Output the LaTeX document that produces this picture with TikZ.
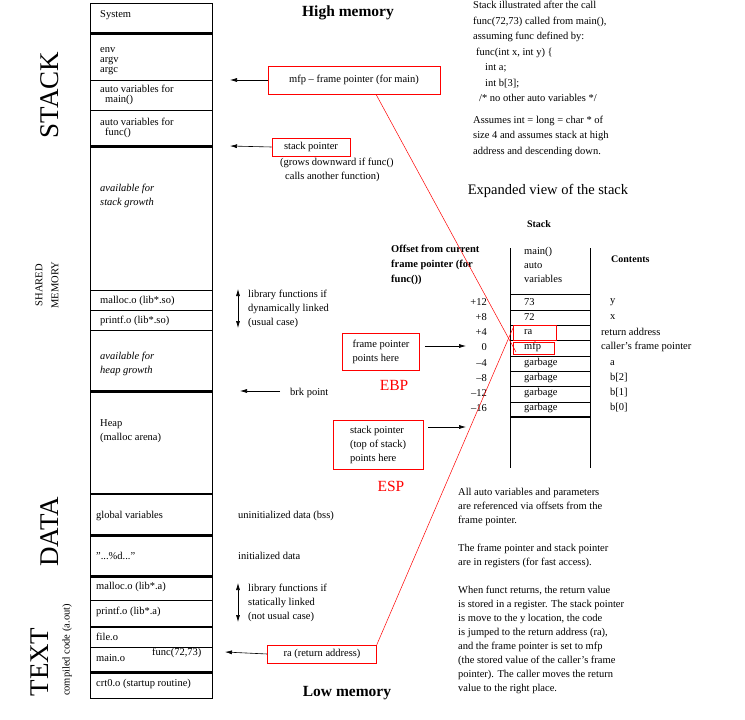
\documentclass[tikz,border=0pt]{standalone}
\usepackage{fontspec}
\setmainfont{Liberation Serif}
\usetikzlibrary{arrows.meta}
\begin{document}
\begin{tikzpicture}[x=1pt,y=-1pt,font=\fontsize{10.5}{14}\selectfont,
  t/.style={anchor=west,inner sep=0pt,align=left},
  rb/.style={draw=red,line width=0.6pt},
  thick line/.style={line width=3pt},
  ar/.style={-{Latex[length=7pt,width=4pt]},line width=0.6pt}]
\useasboundingbox (0,0) rectangle (745,720);
% main column
\draw[line width=0.7pt] (90,3) rectangle (212,698);
\foreach \y in {80,110,290,310,330,600,647} \draw[line width=0.7pt] (90,\y)--(212,\y);
\foreach \y in {33,146,391,535,576,672} \draw[thick line] (90,\y)--(212,\y);
\foreach \y in {494,627} \draw[line width=1.8pt] (90,\y)--(212,\y);
\node[t] (sys) at (100,15) {System};
\node[t] (env) at (100,61) {\parbox{80pt}{\baselineskip=10pt env\\argv\\argc}};
\node[t] (am) at (100,95) {\parbox{110pt}{\baselineskip=10pt auto variables for\\\hspace*{5pt}main()}};
\node[t] (af) at (100,128) {\parbox{110pt}{\baselineskip=10pt auto variables for\\\hspace*{5pt}func()}};
\node[t] (asg) at (100,196) {\itshape available for\\\itshape stack growth};
\node[t] (mso) at (100,301) {malloc.o (lib*.so)};
\node[t] (pso) at (100,321) {printf.o (lib*.so)};
\node[t] (ahg) at (100,364) {\itshape available for\\\itshape heap growth};
\node[t] (heap) at (100,431) {Heap\\(malloc arena)};
\node[t] (gv) at (96,516) {global variables};
\node[t] (fmt) at (96,556) {"...\%d..."};
\node[t] (ma) at (96,587) {malloc.o (lib*.a)};
\node[t] (pa) at (96,612) {printf.o (lib*.a)};
\node[t] (fo) at (96,637) {file.o};
\node[t] (mo) at (96,658) {main.o};
\node[t] (fc) at (152,653) {func(72,73)};
\node[t] (crt) at (96,684) {crt0.o (startup routine)};
% left labels
\node[rotate=90,font=\fontsize{27}{27}\selectfont] (lstack) at (50,95) {STACK};
\node[rotate=90,font=\fontsize{10.5}{16}\selectfont,align=center] (lsh) at (47,285) {SHARED\\MEMORY};
\node[rotate=90,font=\fontsize{27}{27}\selectfont] (ldata) at (50,532) {DATA};
\node[rotate=90,font=\fontsize{27}{27}\selectfont] (ltext) at (40,662) {TEXT};
\node[rotate=90,font=\fontsize{10.5}{10}\selectfont] (lcc) at (67,650) {compiled code (a.out)};
% titles
\node[font=\bfseries\fontsize{15.5}{15}\selectfont] (hm) at (348,13) {High memory};
\node[font=\bfseries\fontsize{15.5}{15}\selectfont] (lm) at (347,693) {Low memory};
% pointers
\node[rb,minimum width=172pt,minimum height=28pt] (mfpb) at (354,80) {mfp -- frame pointer (for main)};
\coordinate (mfpt) at (230,80);
\draw[ar] (mfpb.west) -- (mfpt);
\node[rb,minimum width=78pt,minimum height=18pt,inner sep=1pt] (spb) at (311,147) {stack pointer};
\coordinate (spt) at (230,146);
\draw[ar] (spb.west) -- (spt);
\node[t] (grow) at (280,170) {(grows downward if func()\\\hspace*{5pt}calls another function)};
\coordinate (da1) at (238,289); \coordinate (da2) at (238,328);
\draw[{Latex[length=7pt,width=4pt]}-{Latex[length=7pt,width=4pt]},line width=0.6pt] (da1)--(da2);
\node[t] (dyn) at (248,309) {library functions if\\dynamically linked\\(usual case)};
\node[t] (brk) at (290,393) {brk point};
\coordinate (brkt) at (240,391);
\draw[ar] (brk.west)++(-10,-2) coordinate (brks) -- (brkt);
\node[t] (bss) at (238,516) {uninitialized data (bss)};
\node[t] (ini) at (238,556) {initialized data};
\coordinate (sa1) at (238,583); \coordinate (sa2) at (238,622);
\draw[{Latex[length=7pt,width=4pt]}-{Latex[length=7pt,width=4pt]},line width=0.6pt] (sa1)--(sa2);
\node[t] (stat) at (248,603) {library functions if\\statically linked\\(not usual case)};
\node[rb,minimum width=109pt,minimum height=18pt] (rab) at (322,654) {ra (return address)};
\coordinate (rat) at (225,652);
\draw[ar] (rab.west) -- (rat);
% top right text
\node[t,anchor=north west] (desc) at (473,1) {\parbox{200pt}{\baselineskip=15.5pt Stack illustrated after the call\\func(72,73) called from main(),\\assuming func defined by:\\\hspace*{3pt}func(int x, int y) \{\\\hspace*{12pt}int a;\\\hspace*{12pt}int b[3];\\\hspace*{6pt}/* no other auto variables */\par\vspace{6pt}Assumes int = long = char * of\\size 4 and assumes stack at high\\address and descending down.}};
\node[font=\fontsize{14.5}{14}\selectfont] (ev) at (548,191) {Expanded view of the stack};
% expanded stack
\node[font=\bfseries] (sth) at (539,224) {Stack};
\node[t,font=\bfseries\fontsize{10.5}{15}\selectfont] (offh) at (391,265) {Offset from current\\frame pointer (for\\func())};
\node[t] (mav) at (524,265) {main()\\auto\\variables};
\node[t,font=\bfseries] (cont) at (611,259) {Contents};
\draw[line width=0.7pt] (510,248)--(510,468) (590,248)--(590,468);
\foreach \y in {294,310,325,340,356,371,386,402} \draw[line width=0.7pt] (510,\y)--(590,\y);
\draw[line width=1.6pt] (510,417)--(590,417);
\foreach \o/\v/\c/\y in {+12/73/y/302,+8/72/x/317,+4/ra/{}/332,0/mfp/{}/347,--4/garbage/a/363,--8/garbage/b[2]/378,--12/garbage/b[1]/393,--16/garbage/b[0]/408}{
  \node[anchor=east,inner sep=0pt] at (487,\y) {\o};
  \node[t] at (524,\y) {\v};
  \node[t] at (610,\y) {\c};}
\node[t] (retad) at (601,332) {return address};
\node[t] (cfp) at (601,347) {caller's frame pointer};
\draw[rb] (513,325) rectangle (556,340);
\draw[rb] (513,342) rectangle (554,354);
\coordinate (racell) at (513,328);
\coordinate (mfpcell) at (516,352);
\node[rb,minimum width=77pt,minimum height=37pt,align=left] (fpb) at (381,352) {frame pointer\\points here};
\coordinate (fpt) at (466,346);
\draw[ar] (fpb.east)++(5,-6) -- (fpt);
\node[text=red,font=\fontsize{15.5}{15}\selectfont] (ebp) at (394,385) {EBP};
\node[rb,minimum width=90pt,minimum height=49pt,align=left] (spb2) at (378,445) {stack pointer\\(top of stack)\\points here};
\coordinate (spt2) at (466,427);
\draw[ar] (spb2.east)++(5,-18) -- (spt2);
\node[text=red,font=\fontsize{15.5}{15}\selectfont] (esp) at (391,486) {ESP};
% red connectors
\draw[red,line width=0.5pt] (mfpb.south)++(22,0) -- (mfpcell);
\draw[red,line width=0.5pt] (rab.north east) -- (racell);
% bottom right text
\node[t,anchor=north west] (notes) at (458,488) {\parbox{210pt}{\baselineskip=14pt All auto variables and parameters\\are referenced via offsets from the\\frame pointer.\par\vspace{14pt}The frame pointer and stack pointer\\are in registers (for fast access).\par\vspace{14pt}When funct returns, the return value\\is stored in a register.  The stack pointer\\is move to  the y location, the code\\is jumped to the return address (ra),\\and the frame pointer is set to mfp\\(the stored value of the caller's frame\\pointer). The caller moves the return\\value to the right place.}};
\end{tikzpicture}
\end{document}
